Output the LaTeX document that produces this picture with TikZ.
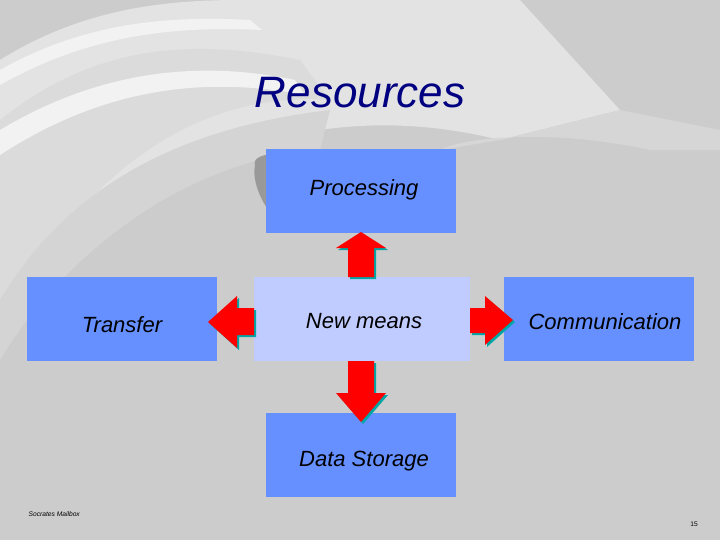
\documentclass[tikz,border=0pt]{standalone}
\usepackage{fontspec}
\setmainfont{Liberation Sans}
\begin{document}
\begin{tikzpicture}[x=0.75pt,y=-0.75pt,
  box/.style={fill=boxblue,draw=none,minimum width=142.5pt,minimum height=63pt,inner sep=0pt},
  lbl/.style={font=\itshape\fontsize{16.5}{20}\selectfont},
  arr/.style={fill=red,draw=none},
  shad/.style={fill=teal!70!cyan,draw=none}]
\definecolor{boxblue}{HTML}{6690FF}
\definecolor{lightbox}{HTML}{C0CCFF}
\definecolor{bg}{HTML}{CCCCCC}
\definecolor{navy}{HTML}{000080}
\useasboundingbox (0,0) rectangle (720,540);
\fill[bg] (0,0) rectangle (720,540);
% decorative background
\fill[white!45!bg] (0,60) .. controls (80,10) and (160,0) .. (240,0) -- (520,0) -- (620,110) -- (500,140) .. controls (380,110) and (200,110) .. (0,300) -- cycle;
\fill[white!30!bg] (0,120) .. controls (100,40) and (200,40) .. (300,60) -- (330,100) .. controls (200,90) and (80,170) .. (0,330) -- cycle;
\fill[white!75!bg] (0,70) .. controls (80,25) and (160,15) .. (250,20) -- (262,30) .. controls (160,25) and (80,40) .. (0,85) -- cycle;
\fill[white!75!bg] (0,130) .. controls (100,70) and (200,60) .. (295,80) -- (305,95) .. controls (200,75) and (100,90) .. (0,155) -- cycle;
\fill[white!15!bg] (0,300) .. controls (60,200) and (160,130) .. (330,110) -- (320,150) .. controls (180,160) and (60,260) .. (0,360) -- cycle;
\fill[gray!80] (255,165) .. controls (250,150) and (300,150) .. (345,160) .. controls (365,170) and (360,190) .. (340,192) .. controls (300,190) and (280,200) .. (272,215) .. controls (260,200) and (252,180) .. (255,165) -- cycle;
\fill[white!20!bg] (440,150) .. controls (470,135) and (560,130) .. (650,150) -- (720,150) -- (720,130) -- (620,110) -- (500,140) -- cycle;
% title
\node[font=\itshape\fontsize{33}{40}\selectfont,text=navy] (title) at (360,93) {Resources};
% boxes
\node[box] (proc) at (361,191) {};
\node[box] (trans) at (122,319) {};
\node[box,fill=lightbox,minimum width=162pt] (new) at (362,319) {};
\node[box] (comm) at (599,319) {};
\node[box] (data) at (361,455) {};
\node[lbl] at (364,190) {Processing};
\node[lbl] at (122,325) {Transfer};
\node[lbl] at (364,321) {New means};
\node[lbl] at (605,322) {Communication};
\node[lbl] at (364,461) {Data Storage};
% arrows: shadow then red
\foreach \dx/\dy/\s in {2/2/shad,0/0/arr}{
  \begin{scope}[shift={(\dx,\dy)}]
  \path[\s] (348,277) -- (348,248) -- (336,248) -- (361,232) -- (386,248) -- (374,248) -- (374,277) -- cycle;
  \path[\s] (254,308) -- (237,308) -- (237,296) -- (208,322) -- (237,348) -- (237,335) -- (254,335) -- cycle;
  \path[\s] (470,308) -- (485,308) -- (485,296) -- (513,320) -- (485,345) -- (485,333) -- (470,333) -- cycle;
  \path[\s] (348,361) -- (348,393) -- (336,393) -- (361,422) -- (386,393) -- (374,393) -- (374,361) -- cycle;
  \end{scope}}
\node[font=\itshape\fontsize{5}{6}\selectfont,anchor=west] (foot) at (24,514) {Socrates Mailbox};
\node[font=\fontsize{5}{6}\selectfont] (pg) at (694,524) {15};
\end{tikzpicture}
\end{document}
